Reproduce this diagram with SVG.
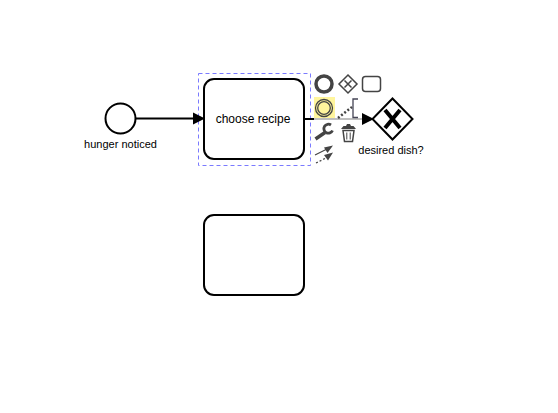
<svg xmlns="http://www.w3.org/2000/svg" width="558" height="413" viewBox="0 0 558 413">
<style>
.shape{fill:#fff;stroke:#000;stroke-width:2}
.flow{fill:none;stroke:#000;stroke-width:2}
.lbl{font-family:"Liberation Sans",Arial,sans-serif;font-size:11px;fill:#000}
.ic{fill:none;stroke:#444;stroke-width:1.500}
.icf{fill:#444;stroke:none}
.head{fill:#000;stroke:none}
</style>
<rect width="558" height="413" fill="#fff"/>
<g id="task-selection"><rect x="198.500" y="73.500" width="112" height="92" fill="none" stroke="#7a7aff" stroke-width="1" stroke-dasharray="4 3"/></g>
<g id="start-event">
<circle class="shape" cx="120.500" cy="118.500" r="15"/>
<text class="lbl" x="120.500" y="147.500" text-anchor="middle">hunger noticed</text>
</g>
<g id="task-choose-recipe">
<rect class="shape" x="204" y="79" width="100" height="80" rx="10"/>
<text class="lbl" x="253" y="123" text-anchor="middle" style="font-size:12px">choose recipe</text>
</g>
<g id="task-empty"><rect class="shape" x="204" y="215" width="100" height="80" rx="10"/></g>
<g id="gateway">
<path class="shape" d="M392.500 98.500L412.500 119L392.500 139.500L372.500 119Z"/>
<path d="M385 110L400 128M400 110L385 128" fill="none" stroke="#000" stroke-width="4"/>
<text class="lbl" x="391" y="154" text-anchor="middle">desired dish?</text>
</g>
<g id="connectors">
<path class="flow" d="M136 118.500H194"/>
<path class="head" d="M193 112.500L205 118.500L193 124.500Z"/>
<path class="flow" d="M304 119H314"/>
<path d="M314 119H363" fill="none" stroke="#aaa" stroke-width="1.500"/>
<path class="head" d="M362 113L374 119L362 125Z"/>
</g>
<g id="context-pad">
<circle cx="324" cy="84" r="8" fill="none" stroke="#444" stroke-width="3.500"/>
<path class="ic" d="M348 75L357 84L348 93L339 84Z"/>
<path class="ic" d="M344.500 80.500L351.500 87.500M351.500 80.500L344.500 87.500" stroke-width="1.200"/>
<rect class="ic" x="362.500" y="76.500" width="18" height="15" rx="3"/>
<rect x="314" y="97" width="21" height="21" fill="#fff59d"/>
<circle cx="324" cy="108" r="8.500" fill="none" stroke="#444" stroke-width="1.300"/>
<circle cx="324" cy="108" r="6.300" fill="none" stroke="#444" stroke-width="1.300"/>
<path d="M338 118L352 107" fill="none" stroke="#444" stroke-width="2.500" stroke-dasharray="2 2"/>
<path d="M358 99H353V117.500H358" fill="none" stroke="#445" stroke-width="1.300"/>
<path d="M315.500 139L325 132.500" fill="none" stroke="#444" stroke-width="3.500"/>
<path d="M331 125A4.500 4.500 0 1 0 332.500 130.500" fill="none" stroke="#444" stroke-width="2.800"/>
<path class="icf" d="M341 129L343.500 126H346L347 124H350L351 126H353.500L356 129Z"/>
<path class="ic" d="M343 130.500L344.500 141.500H352.500L354 130.500Z"/>
<path d="M346.800 132.500V139.500M350.200 132.500V139.500" fill="none" stroke="#444" stroke-width="1"/>
<path d="M315 155L328 148.500" fill="none" stroke="#444" stroke-width="1.200"/>
<path class="icf" d="M333 145.500L324 147.500L327.500 153Z"/>
<path d="M316 163L328 157" fill="none" stroke="#444" stroke-width="1.300" stroke-dasharray="2 2"/>
<path class="icf" d="M333 152.500L324 155L328 160.500Z"/>
</g>
</svg>
